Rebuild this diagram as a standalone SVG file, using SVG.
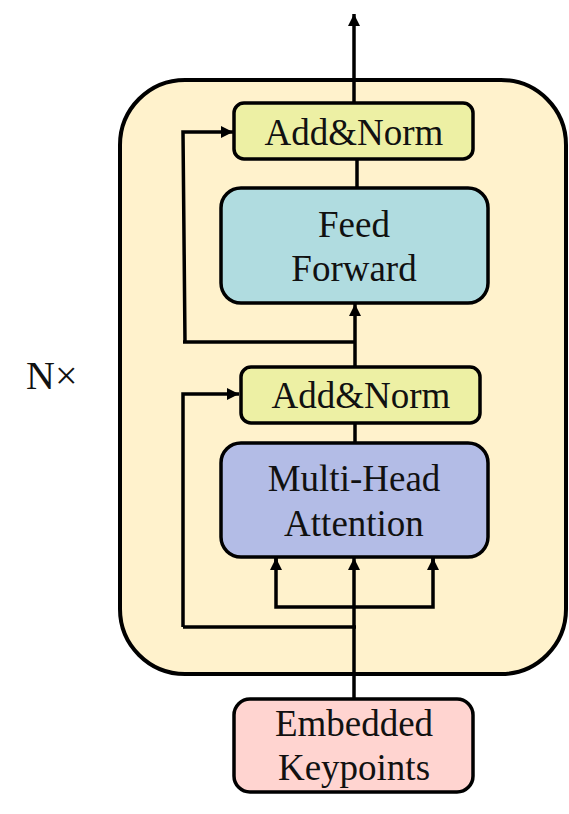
<svg xmlns="http://www.w3.org/2000/svg" width="569" height="814" viewBox="0 0 569 814">
<defs>
<marker id="ah" viewBox="0 0 10 10" refX="10" refY="5" markerWidth="3.5" markerHeight="3.5" orient="auto" markerUnits="strokeWidth">
<path d="M0,0 L10,5 L0,10 z" fill="#000"/>
</marker>
</defs>
<style>
.box{stroke:#000;stroke-width:3.5}
.t{font-family:"Liberation Serif","Times New Roman",serif;font-size:37px;fill:#111;text-anchor:middle}
.c{fill:none;stroke:#000;stroke-width:3.5}
</style>
<rect width="569" height="814" fill="#fff"/>
<g id="container">
<rect x="120" y="80" width="446" height="594" rx="65" fill="#FFF2CC" stroke="#000" stroke-width="4"/>
</g>
<g id="nx"><text class="t" x="26" y="389" style="text-anchor:start;font-size:40px">N×</text></g>
<g id="connectors">
<line class="c" x1="354" y1="103" x2="354" y2="14" marker-end="url(#ah)"/>
<line class="c" x1="357" y1="159" x2="357" y2="188"/>
<polyline class="c" points="185,342 183,132 233,132" marker-end="url(#ah)"/>
<line class="c" x1="355" y1="367" x2="355" y2="304" marker-end="url(#ah)"/>
<line class="c" x1="183" y1="342" x2="356" y2="342"/>
<line class="c" x1="355" y1="423" x2="355" y2="443"/>
<polyline class="c" points="183,627 183,394 239,394" marker-end="url(#ah)"/>
<line class="c" x1="183" y1="627" x2="356" y2="627"/>
<line class="c" x1="354" y1="699" x2="354" y2="558" marker-end="url(#ah)"/>
<polyline class="c" points="276,558 276,607 433,607 433,558"/>
<line class="c" x1="276" y1="570" x2="276" y2="558" marker-end="url(#ah)"/>
<line class="c" x1="433" y1="570" x2="433" y2="558" marker-end="url(#ah)"/>
</g>
<g id="addnorm2">
<rect class="box" x="234" y="103" width="239" height="56" rx="10" fill="#EDF0A4"/>
<text class="t" x="354" y="145">Add&amp;Norm</text>
</g>
<g id="feedforward">
<rect class="box" x="221" y="188" width="267" height="115" rx="20" fill="#B0DCE0"/>
<text class="t" x="354" y="237">Feed</text>
<text class="t" x="354" y="281">Forward</text>
</g>
<g id="addnorm1">
<rect class="box" x="241" y="367" width="239" height="56" rx="10" fill="#EDF0A4"/>
<text class="t" x="361" y="408">Add&amp;Norm</text>
</g>
<g id="mha">
<rect class="box" x="221" y="443" width="267" height="114" rx="20" fill="#B3BCE6"/>
<text class="t" x="354" y="491">Multi-Head</text>
<text class="t" x="354" y="536">Attention</text>
</g>
<g id="embedded">
<rect class="box" x="234" y="699" width="239" height="93" rx="16" fill="#FFD4D0"/>
<text class="t" x="354" y="736">Embedded</text>
<text class="t" x="354" y="780">Keypoints</text>
</g>
</svg>
